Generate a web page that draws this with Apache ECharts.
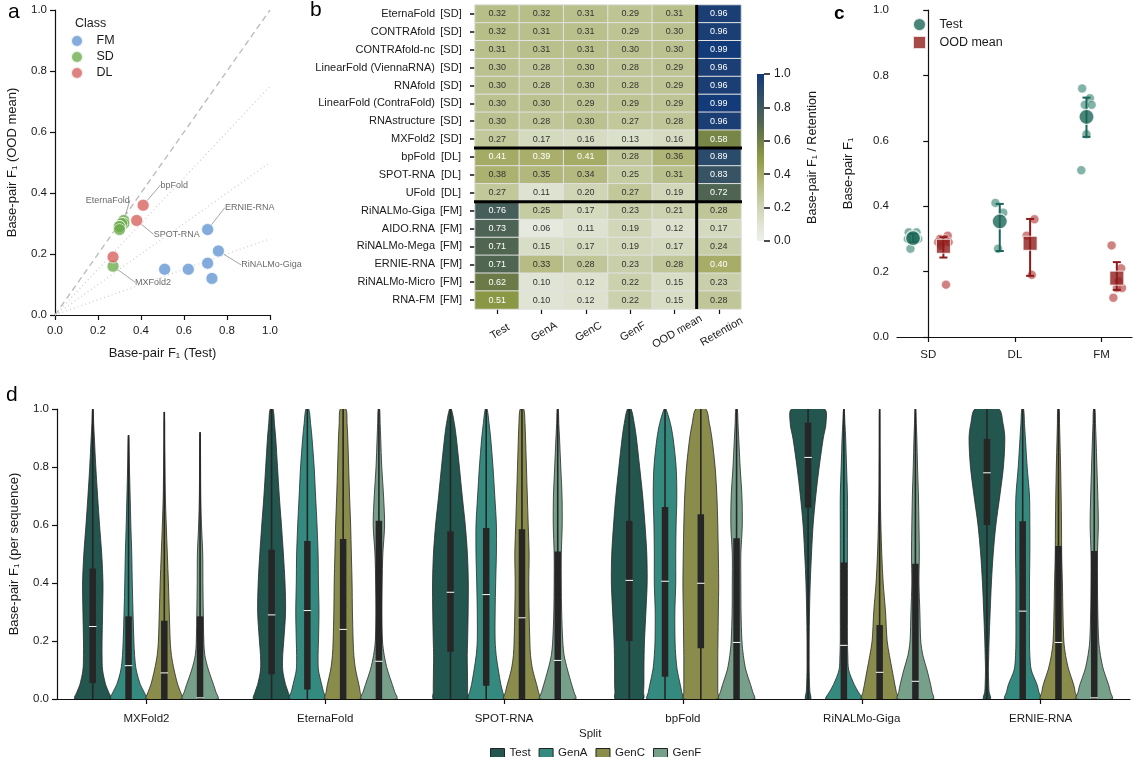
<!DOCTYPE html>
<html><head><meta charset="utf-8">
<script src="https://cdn.jsdelivr.net/npm/echarts@6/dist/echarts.min.js"></script>
<style>html,body{margin:0;padding:0;background:#fff}#c{width:1135px;height:757px}</style>
</head><body><div id="c"></div>
<script>
// ---------------- DATA ----------------
const models = ['EternaFold','CONTRAfold','CONTRAfold-nc','LinearFold (ViennaRNA)','RNAfold','LinearFold (ContraFold)','RNAstructure','MXFold2','bpFold','SPOT-RNA','UFold','RiNALMo-Giga','AIDO.RNA','RiNALMo-Mega','ERNIE-RNA','RiNALMo-Micro','RNA-FM'];
const modelClass = ['SD','SD','SD','SD','SD','SD','SD','SD','DL','DL','DL','FM','FM','FM','FM','FM','FM'];
const colNames = ['Test','GenA','GenC','GenF','OOD mean','Retention'];
const f1Test = [0.32,0.32,0.31,0.30,0.30,0.30,0.30,0.27,0.41,0.38,0.27,0.76,0.73,0.71,0.71,0.62,0.51];
const f1GenA = [0.32,0.31,0.31,0.28,0.28,0.30,0.28,0.17,0.39,0.35,0.11,0.25,0.06,0.15,0.33,0.10,0.10];
const f1GenC = [0.31,0.31,0.31,0.30,0.30,0.29,0.30,0.16,0.41,0.34,0.20,0.17,0.11,0.17,0.28,0.12,0.12];
const f1GenF = [0.29,0.29,0.30,0.28,0.28,0.29,0.27,0.13,0.28,0.25,0.27,0.23,0.19,0.19,0.23,0.22,0.22];
const f1OOD  = [0.31,0.30,0.30,0.29,0.29,0.29,0.28,0.16,0.36,0.31,0.19,0.21,0.12,0.17,0.28,0.15,0.15];
const retention = [0.96,0.96,0.99,0.96,0.96,0.99,0.96,0.58,0.89,0.83,0.72,0.28,0.17,0.24,0.40,0.23,0.28];

const classOrder = ['SD','DL','FM'];
const testCILow  = [0.290,0.263,0.612];
const testCIHigh = [0.315,0.407,0.732];
const oodCILow   = [0.243,0.187,0.144];
const oodCIHigh  = [0.305,0.361,0.229];

const refRatios = [1,0.75,0.5,0.25];
const refLabels = ['100%','75%','50%','25%'];
const annotated = ['EternaFold','bpFold','SPOT-RNA','ERNIE-RNA','RiNALMo-Giga','MXFold2'];

const violinModels = ['MXFold2','EternaFold','SPOT-RNA','bpFold','RiNALMo-Giga','ERNIE-RNA'];
const splits = ['Test','GenA','GenC','GenF'];
const densityLevels = [0,0.025,0.05,0.1,0.15,0.2,0.3,0.4,0.5,0.6,0.7,0.8,0.9,0.95,1.0];
// relative violin widths at densityLevels, one row per split (Test, GenA, GenC, GenF)
const densityMXFold2 = [
  [1.0,0.88,0.72,0.55,0.52,0.52,0.55,0.57,0.50,0.38,0.27,0.17,0.09,0.05,0.02],
  [1.0,0.86,0.66,0.43,0.34,0.30,0.25,0.21,0.18,0.13,0.09,0.05,0.02,0,0],
  [1.0,0.90,0.75,0.55,0.40,0.33,0.28,0.23,0.17,0.11,0.06,0.04,0.02,0.02,0.01],
  [1.0,0.88,0.75,0.47,0.27,0.21,0.18,0.16,0.15,0.08,0.04,0.03,0.02,0,0]];
const densityEternaFold = [
  [1.0,0.92,0.78,0.62,0.62,0.68,0.78,0.75,0.66,0.55,0.43,0.33,0.23,0.16,0.08],
  [1.0,0.90,0.80,0.62,0.60,0.62,0.65,0.62,0.60,0.54,0.46,0.38,0.26,0.18,0.08],
  [1.0,0.95,0.88,0.70,0.60,0.56,0.52,0.50,0.46,0.42,0.36,0.31,0.26,0.22,0.16],
  [1.0,0.88,0.75,0.48,0.30,0.20,0.16,0.18,0.22,0.32,0.26,0.16,0.10,0.07,0.04]];
const densitySPOTRNA = [
  [0.95,0.96,0.96,0.95,0.94,0.96,0.99,1.0,0.95,0.83,0.66,0.50,0.33,0.22,0.05],
  [1.0,0.92,0.82,0.68,0.56,0.50,0.50,0.53,0.57,0.57,0.48,0.38,0.25,0.16,0.05],
  [1.0,0.92,0.82,0.60,0.48,0.44,0.40,0.38,0.40,0.35,0.30,0.25,0.20,0.17,0.10],
  [1.0,0.90,0.78,0.55,0.36,0.28,0.22,0.20,0.20,0.25,0.24,0.17,0.10,0.06,0.03]];
const densityBpFold = [
  [0.78,0.80,0.82,0.82,0.83,0.85,0.93,1.0,0.98,0.88,0.75,0.58,0.40,0.28,0.10],
  [1.0,0.93,0.85,0.68,0.60,0.56,0.55,0.60,0.60,0.62,0.66,0.62,0.45,0.30,0.05],
  [0.95,0.95,0.95,0.95,0.95,0.96,0.98,1.0,0.98,0.95,0.90,0.80,0.62,0.48,0.28],
  [1.0,0.90,0.78,0.52,0.38,0.30,0.25,0.24,0.24,0.32,0.30,0.20,0.12,0.08,0.04]];
const densityRiNALMoGiga = [
  [0.15,0.10,0.08,0.06,0.06,0.06,0.08,0.12,0.19,0.28,0.43,0.62,0.85,1.0,0.92],
  [1.0,0.80,0.58,0.27,0.22,0.20,0.20,0.20,0.20,0.20,0.20,0.15,0.10,0.06,0.02],
  [1.0,0.93,0.85,0.70,0.55,0.42,0.33,0.20,0.12,0.07,0.04,0.03,0.02,0.02,0.01],
  [1.0,0.93,0.85,0.65,0.42,0.30,0.25,0.20,0.22,0.20,0.17,0.12,0.08,0.05,0.02]];
const densityERNIERNA = [
  [0.20,0.12,0.10,0.08,0.10,0.12,0.18,0.25,0.35,0.50,0.72,0.92,1.0,0.90,0.66],
  [1.0,0.90,0.80,0.48,0.40,0.38,0.38,0.38,0.40,0.40,0.38,0.25,0.15,0.10,0.05],
  [1.0,0.93,0.85,0.58,0.40,0.30,0.25,0.22,0.18,0.17,0.15,0.12,0.08,0.06,0.04],
  [1.0,0.90,0.80,0.52,0.35,0.25,0.20,0.18,0.18,0.23,0.20,0.15,0.10,0.07,0.04]];
// [q1, median, q3, max] per split
const boxMXFold2      = [[0.055,0.25,0.45,1.0],[0,0.115,0.285,0.91],[0,0.09,0.27,0.99],[0,0.004,0.285,0.92]];
const boxEternaFold   = [[0.085,0.29,0.515,1.0],[0.033,0.305,0.545,1.0],[0,0.24,0.552,1.0],[0,0.13,0.615,1.0]];
const boxSPOTRNA      = [[0.163,0.368,0.578,1.0],[0.046,0.36,0.59,1.0],[0,0.28,0.585,1.0],[0,0.133,0.509,1.0]];
const boxBpFold       = [[0.2,0.409,0.614,1.0],[0.077,0.406,0.662,1.0],[0.175,0.399,0.637,1.0],[0,0.195,0.554,1.0]];
const boxRiNALMoGiga  = [[0.66,0.833,0.953,1.0],[0,0.185,0.471,1.0],[0,0.092,0.255,1.0],[0,0.061,0.466,1.0]];
const boxERNIERNA     = [[0.6,0.78,0.897,1.0],[0,0.303,0.613,1.0],[0,0.195,0.528,1.0],[0,0.004,0.51,1.0]];

const densityByModel = [densityMXFold2,densityEternaFold,densitySPOTRNA,densityBpFold,densityRiNALMoGiga,densityERNIERNA];
const boxByModel = [boxMXFold2,boxEternaFold,boxSPOTRNA,boxBpFold,boxRiNALMoGiga,boxERNIERNA];

// ---------------- STYLE ----------------
const FONT = '"Liberation Sans", Arial, Helvetica, sans-serif';
const TXT = '#1a1a1a';
const classColor = {FM:'#6497d3', SD:'#6eae50', DL:'#d6645f'};
const splitColor = ['#22564e','#358a80','#898c4b','#77a08b'];
const cmap = ['#eef0ec','#e0e4d4','#cfd5b5','#bcc28f','#a7ad67','#8d9a45','#718046','#53684f','#3e5860','#29496c','#11397b'];
const labelOffsets = {'EternaFold':[-16,-20],'bpFold':[31,-20],'SPOT-RNA':[40,14],'ERNIE-RNA':[42,-22],'RiNALMo-Giga':[53,14],'MXFold2':[40,16]};
const jitterPattern = [-0.05,0.04,-0.02,0.06,0.0,-0.06,0.03,-0.03];

function ax(extra){
  return Object.assign({
    axisLine:{show:true,lineStyle:{color:'#111',width:1.2}},
    axisTick:{show:true,length:5,lineStyle:{color:'#111',width:1.2}},
    axisLabel:{color:TXT,fontSize:11.5,fontFamily:FONT},
    splitLine:{show:false},
    nameTextStyle:{color:TXT,fontSize:13,fontFamily:FONT}
  }, extra);
}

const series = [];
// ---- Panel a: reference lines
refRatios.forEach((r,k)=>{
  series.push({type:'line', xAxisIndex:0, yAxisIndex:0, silent:true, symbol:'none', z:1,
    lineStyle:{color: k===0?'#bdbdbd':'#cfcfcf', width: k===0?1.4:1.3, type: k===0?[6,4]:[1,3]},
    data:[[0,0],{value:[0.955,0.955*r],label:{show:true,formatter:refLabels[k],position:'inside',color:'#b5b5b5',fontSize:8,fontFamily:FONT,offset:[2,k===0?5:-3]}},[1,r]]});
});
// ---- Panel a: scatter by class
['FM','SD','DL'].forEach(cls=>{
  const data=[];
  models.forEach((m,i)=>{ if(modelClass[i]===cls){
    const item={name:m,value:[f1Test[i],f1OOD[i]]};
    if(annotated.includes(m)) item.label={show:true};
    data.push(item);
  }});
  series.push({type:'scatter', name:cls, xAxisIndex:0, yAxisIndex:0, symbolSize:12, z:3,
    itemStyle:{color:classColor[cls],borderColor:'#fff',borderWidth:0.8},
    label:{show:false,position:'inside',formatter:'{b}',color:'#444',fontSize:9,fontFamily:FONT},
    labelLine:{show:true,lineStyle:{color:'#9a9a9a',width:0.9}},
    labelLayout:function(p){const o=labelOffsets[p.text]; return o?{dx:o[0],dy:o[1]}:{};},
    data});
});
// ---- Panel b: heatmap
const heatCols=[f1Test,f1GenA,f1GenC,f1GenF,f1OOD,retention];
const heatData=[];
heatCols.forEach((arr,c)=>arr.forEach((v,r)=>heatData.push({value:[c,r,v],label:{color:v>=0.39?'#ffffff':'#333333'}})));
const heatIndex = series.length;
series.push({type:'heatmap', xAxisIndex:1, yAxisIndex:1, data:heatData,
  label:{show:true,fontSize:9,fontFamily:FONT,formatter:p=>p.value[2].toFixed(2)},
  itemStyle:{borderColor:'#e2e2e2',borderWidth:1}, emphasis:{disabled:true}});
const sepData=[];
modelClass.forEach((c,i)=>{ if(i>0 && c!==modelClass[i-1]) sepData.push([0,i]); });
sepData.push([1,colNames.indexOf('Retention')]);
series.push({type:'custom', xAxisIndex:1, yAxisIndex:1, silent:true, z:5, data:sepData,
  renderItem:function(params,api){
    const kind=api.value(0), idx=api.value(1);
    const sz=api.size([1,1]);
    const p0=api.coord([0,0]), pN=api.coord([colNames.length-1,models.length-1]);
    const x0=p0[0]-sz[0]/2, x1=pN[0]+sz[0]/2, y0=p0[1]-sz[1]/2, y1=pN[1]+sz[1]/2;
    if(kind===0){const y=api.coord([0,idx])[1]-sz[1]/2; return {type:'line',shape:{x1:x0-1,y1:y,x2:x1+1,y2:y},style:{stroke:'#000',lineWidth:3}};}
    const x=api.coord([idx,0])[0]-sz[0]/2; return {type:'line',shape:{x1:x,y1:y0,x2:x,y2:y1},style:{stroke:'#000',lineWidth:3}};
  }});
// ---- colorbar
series.push({type:'bar', xAxisIndex:2, yAxisIndex:2, silent:true, barWidth:'100%', data:[1],
  itemStyle:{color:new echarts.graphic.LinearGradient(0,1,0,0,cmap.map((c,i)=>({offset:i/(cmap.length-1),color:c})))}});
// ---- Panel c
const testJit=[], oodJit=[];
const cnt={SD:0,DL:0,FM:0};
models.forEach((m,i)=>{
  const ci=classOrder.indexOf(modelClass[i]); const j=jitterPattern[cnt[modelClass[i]]++ % jitterPattern.length];
  testJit.push([ci-0.175+j, f1Test[i]]);
  oodJit.push([ci+0.175-j, f1OOD[i]]);
});
function classMean(arr,cls){let s=0,n=0;arr.forEach((v,i)=>{if(modelClass[i]===cls){s+=v;n++;}});return s/n;}
series.push({type:'scatter', name:'testJitter', xAxisIndex:3, yAxisIndex:3, symbolSize:9, z:2, silent:true,
  itemStyle:{color:'rgba(74,143,128,0.85)',borderColor:'#fff',borderWidth:0.6}, data:testJit});
series.push({type:'scatter', name:'oodJitter', xAxisIndex:3, yAxisIndex:3, symbolSize:9, z:2, silent:true,
  itemStyle:{color:'rgba(184,72,72,0.85)',borderColor:'#fff',borderWidth:0.6}, data:oodJit});
function errSeries(lo,hi,off,color){
  return {type:'custom', xAxisIndex:3, yAxisIndex:3, silent:true, z:3,
    data:classOrder.map((c,i)=>[i+off,lo[i],hi[i]]),
    renderItem:function(params,api){
      const a=api.coord([api.value(0),api.value(1)]), b=api.coord([api.value(0),api.value(2)]);
      const w=4;
      return {type:'group',children:[
        {type:'line',shape:{x1:a[0],y1:a[1],x2:b[0],y2:b[1]},style:{stroke:color,lineWidth:2}},
        {type:'line',shape:{x1:a[0]-w,y1:a[1],x2:a[0]+w,y2:a[1]},style:{stroke:color,lineWidth:2}},
        {type:'line',shape:{x1:b[0]-w,y1:b[1],x2:b[0]+w,y2:b[1]},style:{stroke:color,lineWidth:2}}]};
    }};
}
series.push(errSeries(testCILow,testCIHigh,-0.175,'#1b6658'));
series.push(errSeries(oodCILow,oodCIHigh,0.175,'#8e1b1b'));
series.push({type:'scatter', name:'Test', xAxisIndex:3, yAxisIndex:3, symbol:'circle', symbolSize:15, z:4,
  itemStyle:{color:'#1b6658',borderColor:'#fff',borderWidth:1.2},
  data:classOrder.map((c,i)=>[i-0.175,classMean(f1Test,c)])});
series.push({type:'scatter', name:'OOD mean', xAxisIndex:3, yAxisIndex:3, symbol:'rect', symbolSize:14, z:4,
  itemStyle:{color:'#8e1b1b',borderColor:'#fff',borderWidth:1},
  data:classOrder.map((c,i)=>[i+0.175,classMean(f1OOD,c)])});
// ---- Panel d: violins
splits.forEach((sp,s)=>{
  series.push({type:'custom', name:sp+' ', xAxisIndex:4, yAxisIndex:4, clip:true, silent:true,
    itemStyle:{color:splitColor[s]},
    data:violinModels.map((m,g)=>[g,0]),
    renderItem:function(params,api){
      const g=api.value(0);
      const band=api.size([1,0])[0];
      const cx=api.coord([g,0])[0]+(s-1.5)*band*0.2;
      const half=band*0.1;
      const dens=densityByModel[g][s], box=boxByModel[g][s];
      const top=box[3];
      const right=[], left=[];
      densityLevels.forEach((lv,i)=>{
        if(lv<=top+1e-9){const y=api.coord([g,lv])[1]; right.push([cx+dens[i]*half,y]); left.push([cx-dens[i]*half,y]);}
      });
      if(top<1 && !densityLevels.includes(top)){const y=api.coord([g,top])[1]; right.push([cx,y]); left.push([cx,y]);}
      const pts=right.concat(left.reverse());
      const y0=api.coord([g,0])[1], yTop=api.coord([g,top])[1];
      const yq1=api.coord([g,box[0]])[1], yq3=api.coord([g,box[2]])[1], ym=api.coord([g,box[1]])[1];
      const bw=6.5;
      return {type:'group',children:[
        {type:'polygon',shape:{points:pts,smooth:0.3},style:{fill:splitColor[s],stroke:'#2a2a2a',lineWidth:0.8}},
        {type:'line',shape:{x1:cx,y1:y0,x2:cx,y2:yTop},style:{stroke:'#262626',lineWidth:1.6}},
        {type:'rect',shape:{x:cx-bw/2,y:yq3,width:bw,height:yq1-yq3},style:{fill:'#262626'}},
        {type:'line',shape:{x1:cx-bw/2-0.5,y1:ym,x2:cx+bw/2+0.5,y2:ym},style:{stroke:'#ffffff',lineWidth:1}}]};
    }});
});

const option = {
  animation:false,
  textStyle:{fontFamily:FONT},
  grid:[
    {left:55,top:10,width:215,height:305},
    {left:475,top:5,width:266,height:304},
    {left:757,top:74,width:7,height:167},
    {left:897,top:10,width:235,height:327},
    {left:55,top:409,width:1075,height:290}
  ],
  xAxis:[
    ax({gridIndex:0,type:'value',min:0,max:1,interval:0.2,name:'Base-pair F₁ (Test)',nameLocation:'middle',nameGap:32,axisLabel:{color:TXT,fontSize:11.5,fontFamily:FONT,formatter:v=>v.toFixed(1),margin:10}}),
    ax({gridIndex:1,type:'category',data:colNames,axisLine:{show:false},axisTick:{show:true,length:5,alignWithLabel:true,lineStyle:{color:'#111',width:1.2}},
        axisLabel:{color:TXT,fontSize:11,fontFamily:FONT,rotate:30,align:'center',verticalAlign:'top',margin:18,interval:0}}),
    {gridIndex:2,type:'category',data:['cb'],show:false},
    ax({gridIndex:3,type:'value',min:-0.36,max:2.35,axisTick:{show:true,length:5,customValues:[0,1,2],lineStyle:{color:'#111',width:1.2}},
        axisLabel:{color:TXT,fontSize:11.5,fontFamily:FONT,customValues:[0,1,2],formatter:v=>classOrder[Math.round(v)],margin:12}}),
    ax({gridIndex:4,type:'category',data:violinModels,axisTick:{show:true,length:5,alignWithLabel:true,lineStyle:{color:'#111',width:1.2}},
        axisLabel:{color:TXT,fontSize:11.5,fontFamily:FONT,margin:14}})
  ],
  yAxis:[
    ax({gridIndex:0,type:'value',min:0,max:1,interval:0.2,name:'Base-pair F₁ (OOD mean)',nameLocation:'middle',nameGap:36,axisLabel:{color:TXT,fontSize:11.5,fontFamily:FONT,formatter:v=>v.toFixed(1)}}),
    ax({gridIndex:1,type:'category',data:models,inverse:true,axisLine:{show:false},axisTick:{show:true,length:5,alignWithLabel:true,lineStyle:{color:'#111',width:1.5}},
        axisLabel:{interval:0,margin:14,formatter:(v,i)=>'{n|'+v+'}{s|}{b|['+modelClass[i]+']}',
          rich:{n:{fontSize:11,color:TXT,fontFamily:FONT},s:{width:6},b:{fontSize:11,color:TXT,fontFamily:FONT,width:20,align:'left'}}}}),
    ax({gridIndex:2,type:'value',min:0,max:1,interval:0.2,position:'right',axisLine:{show:false},
        axisTick:{show:true,length:6,lineStyle:{color:'#111',width:1.5}},
        axisLabel:{color:TXT,fontSize:12,fontFamily:FONT,margin:10,formatter:v=>v.toFixed(1)},
        name:'Base-pair F₁ / Retention',nameLocation:'middle',nameRotate:90,nameGap:42,nameTextStyle:{color:TXT,fontSize:12.5,fontFamily:FONT}}),
    ax({gridIndex:3,type:'value',min:0,max:1,interval:0.2,name:'Base-pair F₁',nameLocation:'middle',nameGap:42,axisLabel:{color:TXT,fontSize:11.5,fontFamily:FONT,formatter:v=>v.toFixed(1)}}),
    ax({gridIndex:4,type:'value',min:0,max:1,interval:0.2,name:'Base-pair F₁ (per sequence)',nameLocation:'middle',nameGap:36,axisLabel:{color:TXT,fontSize:11.5,fontFamily:FONT,formatter:v=>v.toFixed(1)}})
  ],
  visualMap:[{type:'continuous',show:false,min:0,max:1,seriesIndex:heatIndex,inRange:{color:cmap}}],
  legend:[
    {data:['FM','SD','DL'],orient:'vertical',left:65,top:29,itemWidth:29,itemHeight:12,itemGap:2,icon:'circle',
      textStyle:{color:TXT,fontSize:12.5,fontFamily:FONT},selectedMode:false},
    {data:[{name:'Test',icon:'circle'},{name:'OOD mean',icon:'path://M0,0L10,0L10,10L0,10Z'}],orient:'vertical',left:907,top:12,itemWidth:30,itemHeight:13,itemGap:3,symbolKeepAspect:true,
      textStyle:{color:TXT,fontSize:12.5,fontFamily:FONT},selectedMode:false},
    {data:splits.map(s=>s+' '),orient:'horizontal',left:485,top:742,itemWidth:14,itemHeight:9,itemGap:8,icon:'rect',
      itemStyle:{borderColor:'#222',borderWidth:1},formatter:n=>n.trim(),
      textStyle:{color:TXT,fontSize:11.5,fontFamily:FONT},selectedMode:false}
  ],
  graphic:[
    {type:'text',left:8,top:2,style:{text:'a',fontSize:21,fill:'#000',fontFamily:FONT}},
    {type:'text',left:310,top:0,style:{text:'b',fontSize:21,fill:'#000',fontFamily:FONT}},
    {type:'text',left:834,top:4,style:{text:'c',fontSize:19,fontWeight:'bold',fill:'#000',fontFamily:FONT}},
    {type:'text',left:6,top:385,style:{text:'d',fontSize:21,fill:'#000',fontFamily:FONT}},
    {type:'text',left:75,top:17,style:{text:'Class',fontSize:12.5,fill:TXT,fontFamily:FONT}},
    {type:'text',left:579,top:728,style:{text:'Split',fontSize:11.5,fill:TXT,fontFamily:FONT}}
  ],
  series
};
const chart = echarts.init(document.getElementById('c'));
chart.setOption(option);
</script></body></html>
